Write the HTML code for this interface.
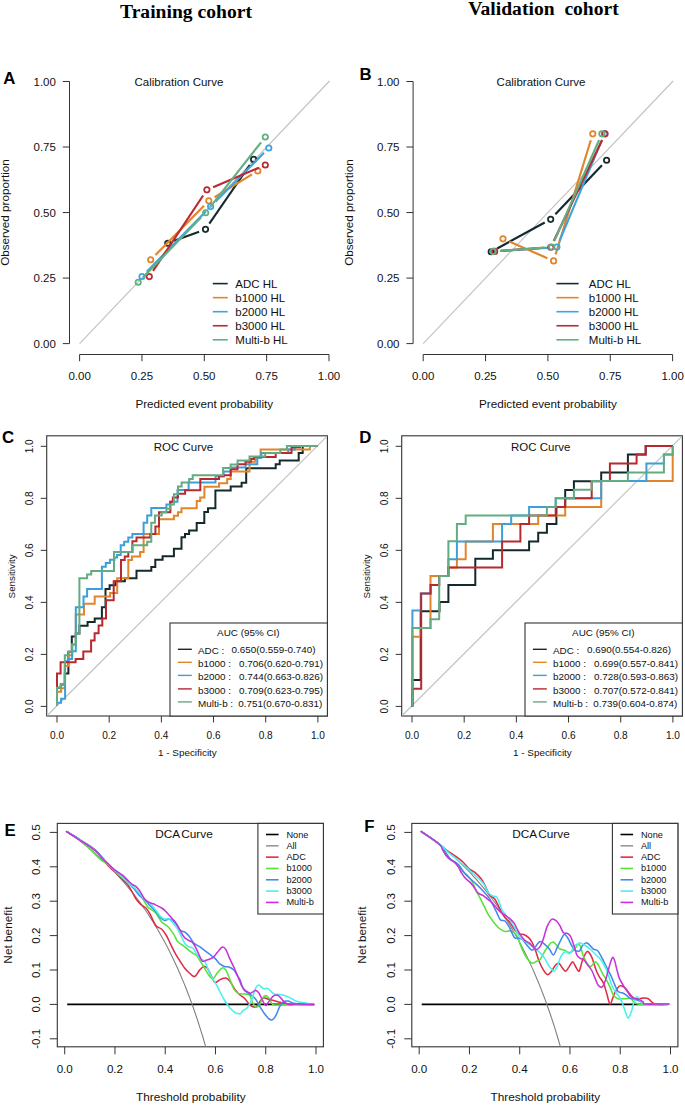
<!DOCTYPE html>
<html><head><meta charset="utf-8"><title>Figure</title>
<style>html,body{margin:0;padding:0;background:#fff;} svg{display:block;}</style>
</head><body>
<svg width="685" height="1105" viewBox="0 0 685 1105">
<rect x="0" y="0" width="685" height="1105" fill="#fff"/>
<text x="186.00" y="18.00" font-family="Liberation Serif, serif" font-size="19.6" text-anchor="middle" fill="#000" font-weight="bold" >Training cohort</text>
<text x="543.50" y="14.50" font-family="Liberation Serif, serif" font-size="19.6" text-anchor="middle" fill="#000" font-weight="bold" >Validation&#160;&#160;cohort</text>
<line x1="69.50" y1="81.50" x2="69.50" y2="343.60" stroke="#333" stroke-width="1" />
<line x1="62.80" y1="343.60" x2="69.50" y2="343.60" stroke="#333" stroke-width="1" />
<text x="55.90" y="347.80" font-family="Liberation Sans, sans-serif" font-size="11.5" text-anchor="end" fill="#111" >0.00</text>
<line x1="62.80" y1="278.08" x2="69.50" y2="278.08" stroke="#333" stroke-width="1" />
<text x="55.90" y="282.28" font-family="Liberation Sans, sans-serif" font-size="11.5" text-anchor="end" fill="#111" >0.25</text>
<line x1="62.80" y1="212.55" x2="69.50" y2="212.55" stroke="#333" stroke-width="1" />
<text x="55.90" y="216.75" font-family="Liberation Sans, sans-serif" font-size="11.5" text-anchor="end" fill="#111" >0.50</text>
<line x1="62.80" y1="147.03" x2="69.50" y2="147.03" stroke="#333" stroke-width="1" />
<text x="55.90" y="151.22" font-family="Liberation Sans, sans-serif" font-size="11.5" text-anchor="end" fill="#111" >0.75</text>
<line x1="62.80" y1="81.50" x2="69.50" y2="81.50" stroke="#333" stroke-width="1" />
<text x="55.90" y="85.70" font-family="Liberation Sans, sans-serif" font-size="11.5" text-anchor="end" fill="#111" >1.00</text>
<line x1="79.60" y1="354.50" x2="329.00" y2="354.50" stroke="#333" stroke-width="1" />
<line x1="79.60" y1="354.50" x2="79.60" y2="361.20" stroke="#333" stroke-width="1" />
<text x="79.60" y="380.20" font-family="Liberation Sans, sans-serif" font-size="11.5" text-anchor="middle" fill="#111" >0.00</text>
<line x1="141.95" y1="354.50" x2="141.95" y2="361.20" stroke="#333" stroke-width="1" />
<text x="141.95" y="380.20" font-family="Liberation Sans, sans-serif" font-size="11.5" text-anchor="middle" fill="#111" >0.25</text>
<line x1="204.30" y1="354.50" x2="204.30" y2="361.20" stroke="#333" stroke-width="1" />
<text x="204.30" y="380.20" font-family="Liberation Sans, sans-serif" font-size="11.5" text-anchor="middle" fill="#111" >0.50</text>
<line x1="266.65" y1="354.50" x2="266.65" y2="361.20" stroke="#333" stroke-width="1" />
<text x="266.65" y="380.20" font-family="Liberation Sans, sans-serif" font-size="11.5" text-anchor="middle" fill="#111" >0.75</text>
<line x1="329.00" y1="354.50" x2="329.00" y2="361.20" stroke="#333" stroke-width="1" />
<text x="329.00" y="380.20" font-family="Liberation Sans, sans-serif" font-size="11.5" text-anchor="middle" fill="#111" >1.00</text>
<text x="204.30" y="408.30" font-family="Liberation Sans, sans-serif" font-size="11.7" text-anchor="middle" fill="#111" >Predicted event probability</text>
<text x="9.20" y="212.55" font-family="Liberation Sans, sans-serif" font-size="11.7" text-anchor="middle" fill="#111" transform="rotate(-90 9.20 212.55)" >Observed proportion</text>
<text x="134.50" y="85.50" font-family="Liberation Sans, sans-serif" font-size="11.5" text-anchor="start" fill="#111" >Calibration Curve</text>
<text x="3.20" y="84.20" font-family="Liberation Sans, sans-serif" font-size="16.8" text-anchor="start" fill="#000" font-weight="bold" >A</text>
<line x1="79.60" y1="343.60" x2="329.50" y2="81.00" stroke="#c2c2c2" stroke-width="1.15" />
<line x1="212.80" y1="283.60" x2="227.70" y2="283.60" stroke="#142a2e" stroke-width="1.6" />
<text x="235.30" y="288.20" font-family="Liberation Sans, sans-serif" font-size="11.5" text-anchor="start" fill="#111" >ADC HL</text>
<line x1="212.80" y1="297.65" x2="227.70" y2="297.65" stroke="#e3842b" stroke-width="1.6" />
<text x="235.30" y="302.25" font-family="Liberation Sans, sans-serif" font-size="11.5" text-anchor="start" fill="#111" >b1000 HL</text>
<line x1="212.80" y1="311.70" x2="227.70" y2="311.70" stroke="#3ba5dd" stroke-width="1.6" />
<text x="235.30" y="316.30" font-family="Liberation Sans, sans-serif" font-size="11.5" text-anchor="start" fill="#111" >b2000 HL</text>
<line x1="212.80" y1="325.75" x2="227.70" y2="325.75" stroke="#bb2a31" stroke-width="1.6" />
<text x="235.30" y="330.35" font-family="Liberation Sans, sans-serif" font-size="11.5" text-anchor="start" fill="#111" >b3000 HL</text>
<line x1="212.80" y1="339.80" x2="227.70" y2="339.80" stroke="#63ae83" stroke-width="1.6" />
<text x="235.30" y="344.40" font-family="Liberation Sans, sans-serif" font-size="11.5" text-anchor="start" fill="#111" >Multi-b HL</text>
<line x1="174.18" y1="240.85" x2="199.12" y2="231.65" stroke="#142a2e" stroke-width="2.15" />
<line x1="209.35" y1="223.70" x2="249.75" y2="165.00" stroke="#142a2e" stroke-width="2.15" />
<circle cx="167.80" cy="243.20" r="2.7" fill="none" stroke="#142a2e" stroke-width="1.75"/>
<circle cx="205.50" cy="229.30" r="2.7" fill="none" stroke="#142a2e" stroke-width="1.75"/>
<circle cx="253.60" cy="159.40" r="2.7" fill="none" stroke="#142a2e" stroke-width="1.75"/>
<line x1="155.47" y1="254.95" x2="204.03" y2="205.65" stroke="#e3842b" stroke-width="2.15" />
<line x1="214.60" y1="197.26" x2="252.00" y2="174.44" stroke="#e3842b" stroke-width="2.15" />
<circle cx="150.70" cy="259.80" r="2.7" fill="none" stroke="#e3842b" stroke-width="1.75"/>
<circle cx="208.80" cy="200.80" r="2.7" fill="none" stroke="#e3842b" stroke-width="1.75"/>
<circle cx="257.80" cy="170.90" r="2.7" fill="none" stroke="#e3842b" stroke-width="1.75"/>
<line x1="146.76" y1="271.65" x2="205.84" y2="211.45" stroke="#3ba5dd" stroke-width="2.15" />
<line x1="215.39" y1="201.78" x2="264.01" y2="152.82" stroke="#3ba5dd" stroke-width="2.15" />
<circle cx="142.00" cy="276.50" r="2.7" fill="none" stroke="#3ba5dd" stroke-width="1.75"/>
<circle cx="210.60" cy="206.60" r="2.7" fill="none" stroke="#3ba5dd" stroke-width="1.75"/>
<circle cx="268.80" cy="148.00" r="2.7" fill="none" stroke="#3ba5dd" stroke-width="1.75"/>
<line x1="153.06" y1="270.93" x2="203.14" y2="195.47" stroke="#bb2a31" stroke-width="2.15" />
<line x1="213.16" y1="187.14" x2="259.04" y2="167.66" stroke="#bb2a31" stroke-width="2.15" />
<circle cx="149.30" cy="276.60" r="2.7" fill="none" stroke="#bb2a31" stroke-width="1.75"/>
<circle cx="206.90" cy="189.80" r="2.7" fill="none" stroke="#bb2a31" stroke-width="1.75"/>
<circle cx="265.30" cy="165.00" r="2.7" fill="none" stroke="#bb2a31" stroke-width="1.75"/>
<line x1="142.93" y1="277.42" x2="200.97" y2="217.58" stroke="#63ae83" stroke-width="2.15" />
<line x1="209.91" y1="207.36" x2="261.09" y2="142.34" stroke="#63ae83" stroke-width="2.15" />
<circle cx="138.20" cy="282.30" r="2.7" fill="none" stroke="#63ae83" stroke-width="1.75"/>
<circle cx="205.70" cy="212.70" r="2.7" fill="none" stroke="#63ae83" stroke-width="1.75"/>
<circle cx="265.30" cy="137.00" r="2.7" fill="none" stroke="#63ae83" stroke-width="1.75"/>
<line x1="413.10" y1="81.50" x2="413.10" y2="343.60" stroke="#333" stroke-width="1" />
<line x1="406.40" y1="343.60" x2="413.10" y2="343.60" stroke="#333" stroke-width="1" />
<text x="399.50" y="347.80" font-family="Liberation Sans, sans-serif" font-size="11.5" text-anchor="end" fill="#111" >0.00</text>
<line x1="406.40" y1="278.08" x2="413.10" y2="278.08" stroke="#333" stroke-width="1" />
<text x="399.50" y="282.28" font-family="Liberation Sans, sans-serif" font-size="11.5" text-anchor="end" fill="#111" >0.25</text>
<line x1="406.40" y1="212.55" x2="413.10" y2="212.55" stroke="#333" stroke-width="1" />
<text x="399.50" y="216.75" font-family="Liberation Sans, sans-serif" font-size="11.5" text-anchor="end" fill="#111" >0.50</text>
<line x1="406.40" y1="147.03" x2="413.10" y2="147.03" stroke="#333" stroke-width="1" />
<text x="399.50" y="151.22" font-family="Liberation Sans, sans-serif" font-size="11.5" text-anchor="end" fill="#111" >0.75</text>
<line x1="406.40" y1="81.50" x2="413.10" y2="81.50" stroke="#333" stroke-width="1" />
<text x="399.50" y="85.70" font-family="Liberation Sans, sans-serif" font-size="11.5" text-anchor="end" fill="#111" >1.00</text>
<line x1="423.20" y1="354.50" x2="672.60" y2="354.50" stroke="#333" stroke-width="1" />
<line x1="423.20" y1="354.50" x2="423.20" y2="361.20" stroke="#333" stroke-width="1" />
<text x="423.20" y="380.20" font-family="Liberation Sans, sans-serif" font-size="11.5" text-anchor="middle" fill="#111" >0.00</text>
<line x1="485.55" y1="354.50" x2="485.55" y2="361.20" stroke="#333" stroke-width="1" />
<text x="485.55" y="380.20" font-family="Liberation Sans, sans-serif" font-size="11.5" text-anchor="middle" fill="#111" >0.25</text>
<line x1="547.90" y1="354.50" x2="547.90" y2="361.20" stroke="#333" stroke-width="1" />
<text x="547.90" y="380.20" font-family="Liberation Sans, sans-serif" font-size="11.5" text-anchor="middle" fill="#111" >0.50</text>
<line x1="610.25" y1="354.50" x2="610.25" y2="361.20" stroke="#333" stroke-width="1" />
<text x="610.25" y="380.20" font-family="Liberation Sans, sans-serif" font-size="11.5" text-anchor="middle" fill="#111" >0.75</text>
<line x1="672.60" y1="354.50" x2="672.60" y2="361.20" stroke="#333" stroke-width="1" />
<text x="672.60" y="380.20" font-family="Liberation Sans, sans-serif" font-size="11.5" text-anchor="middle" fill="#111" >1.00</text>
<text x="547.90" y="408.30" font-family="Liberation Sans, sans-serif" font-size="11.7" text-anchor="middle" fill="#111" >Predicted event probability</text>
<text x="352.80" y="212.55" font-family="Liberation Sans, sans-serif" font-size="11.7" text-anchor="middle" fill="#111" transform="rotate(-90 352.80 212.55)" >Observed proportion</text>
<text x="496.60" y="85.50" font-family="Liberation Sans, sans-serif" font-size="11.5" text-anchor="start" fill="#111" >Calibration Curve</text>
<text x="359.60" y="79.60" font-family="Liberation Sans, sans-serif" font-size="16.8" text-anchor="start" fill="#000" font-weight="bold" >B</text>
<line x1="423.20" y1="343.60" x2="673.10" y2="81.00" stroke="#c2c2c2" stroke-width="1.15" />
<line x1="556.40" y1="283.60" x2="578.60" y2="283.60" stroke="#142a2e" stroke-width="1.6" />
<text x="588.80" y="288.20" font-family="Liberation Sans, sans-serif" font-size="11.5" text-anchor="start" fill="#111" >ADC HL</text>
<line x1="556.40" y1="297.65" x2="578.60" y2="297.65" stroke="#e3842b" stroke-width="1.6" />
<text x="588.80" y="302.25" font-family="Liberation Sans, sans-serif" font-size="11.5" text-anchor="start" fill="#111" >b1000 HL</text>
<line x1="556.40" y1="311.70" x2="578.60" y2="311.70" stroke="#3ba5dd" stroke-width="1.6" />
<text x="588.80" y="316.30" font-family="Liberation Sans, sans-serif" font-size="11.5" text-anchor="start" fill="#111" >b2000 HL</text>
<line x1="556.40" y1="325.75" x2="578.60" y2="325.75" stroke="#bb2a31" stroke-width="1.6" />
<text x="588.80" y="330.35" font-family="Liberation Sans, sans-serif" font-size="11.5" text-anchor="start" fill="#111" >b3000 HL</text>
<line x1="556.40" y1="339.80" x2="578.60" y2="339.80" stroke="#63ae83" stroke-width="1.6" />
<text x="588.80" y="344.40" font-family="Liberation Sans, sans-serif" font-size="11.5" text-anchor="start" fill="#111" >Multi-b HL</text>
<line x1="497.17" y1="248.45" x2="544.73" y2="222.55" stroke="#142a2e" stroke-width="2.15" />
<line x1="555.37" y1="214.36" x2="601.93" y2="165.14" stroke="#142a2e" stroke-width="2.15" />
<circle cx="491.20" cy="251.70" r="2.7" fill="none" stroke="#142a2e" stroke-width="1.75"/>
<circle cx="550.70" cy="219.30" r="2.7" fill="none" stroke="#142a2e" stroke-width="1.75"/>
<circle cx="606.60" cy="160.20" r="2.7" fill="none" stroke="#142a2e" stroke-width="1.75"/>
<line x1="509.23" y1="241.52" x2="547.37" y2="258.18" stroke="#e3842b" stroke-width="2.15" />
<line x1="555.60" y1="254.40" x2="590.80" y2="140.30" stroke="#e3842b" stroke-width="2.15" />
<circle cx="503.00" cy="238.80" r="2.7" fill="none" stroke="#e3842b" stroke-width="1.75"/>
<circle cx="553.60" cy="260.90" r="2.7" fill="none" stroke="#e3842b" stroke-width="1.75"/>
<circle cx="592.80" cy="133.80" r="2.7" fill="none" stroke="#e3842b" stroke-width="1.75"/>
<line x1="500.68" y1="250.94" x2="550.12" y2="247.56" stroke="#3ba5dd" stroke-width="2.15" />
<line x1="559.53" y1="240.83" x2="601.87" y2="140.07" stroke="#3ba5dd" stroke-width="2.15" />
<circle cx="493.90" cy="251.40" r="2.7" fill="none" stroke="#3ba5dd" stroke-width="1.75"/>
<circle cx="556.90" cy="247.10" r="2.7" fill="none" stroke="#3ba5dd" stroke-width="1.75"/>
<circle cx="604.50" cy="133.80" r="2.7" fill="none" stroke="#3ba5dd" stroke-width="1.75"/>
<line x1="501.48" y1="250.89" x2="544.02" y2="247.71" stroke="#bb2a31" stroke-width="2.15" />
<line x1="553.74" y1="241.07" x2="602.16" y2="139.93" stroke="#bb2a31" stroke-width="2.15" />
<circle cx="494.70" cy="251.40" r="2.7" fill="none" stroke="#bb2a31" stroke-width="1.75"/>
<circle cx="550.80" cy="247.20" r="2.7" fill="none" stroke="#bb2a31" stroke-width="1.75"/>
<circle cx="605.10" cy="133.80" r="2.7" fill="none" stroke="#bb2a31" stroke-width="1.75"/>
<line x1="499.88" y1="250.90" x2="544.82" y2="247.60" stroke="#63ae83" stroke-width="2.15" />
<line x1="554.36" y1="240.88" x2="599.14" y2="140.02" stroke="#63ae83" stroke-width="2.15" />
<circle cx="493.10" cy="251.40" r="2.7" fill="none" stroke="#63ae83" stroke-width="1.75"/>
<circle cx="551.60" cy="247.10" r="2.7" fill="none" stroke="#63ae83" stroke-width="1.75"/>
<circle cx="601.90" cy="133.80" r="2.7" fill="none" stroke="#63ae83" stroke-width="1.75"/>
<rect x="46.70" y="435.80" width="280.70" height="280.20" fill="none" stroke="#333" stroke-width="1.1"/>
<line x1="40.70" y1="706.40" x2="46.70" y2="706.40" stroke="#333" stroke-width="1" />
<text x="32.90" y="706.40" font-family="Liberation Sans, sans-serif" font-size="10.1" text-anchor="middle" fill="#111" transform="rotate(-90 32.90 706.40)" >0.0</text>
<line x1="57.00" y1="716.00" x2="57.00" y2="722.50" stroke="#333" stroke-width="1" />
<text x="57.00" y="738.50" font-family="Liberation Sans, sans-serif" font-size="10.1" text-anchor="middle" fill="#111" >0.0</text>
<line x1="40.70" y1="654.38" x2="46.70" y2="654.38" stroke="#333" stroke-width="1" />
<text x="32.90" y="654.38" font-family="Liberation Sans, sans-serif" font-size="10.1" text-anchor="middle" fill="#111" transform="rotate(-90 32.90 654.38)" >0.2</text>
<line x1="109.18" y1="716.00" x2="109.18" y2="722.50" stroke="#333" stroke-width="1" />
<text x="109.18" y="738.50" font-family="Liberation Sans, sans-serif" font-size="10.1" text-anchor="middle" fill="#111" >0.2</text>
<line x1="40.70" y1="602.36" x2="46.70" y2="602.36" stroke="#333" stroke-width="1" />
<text x="32.90" y="602.36" font-family="Liberation Sans, sans-serif" font-size="10.1" text-anchor="middle" fill="#111" transform="rotate(-90 32.90 602.36)" >0.4</text>
<line x1="161.36" y1="716.00" x2="161.36" y2="722.50" stroke="#333" stroke-width="1" />
<text x="161.36" y="738.50" font-family="Liberation Sans, sans-serif" font-size="10.1" text-anchor="middle" fill="#111" >0.4</text>
<line x1="40.70" y1="550.34" x2="46.70" y2="550.34" stroke="#333" stroke-width="1" />
<text x="32.90" y="550.34" font-family="Liberation Sans, sans-serif" font-size="10.1" text-anchor="middle" fill="#111" transform="rotate(-90 32.90 550.34)" >0.6</text>
<line x1="213.54" y1="716.00" x2="213.54" y2="722.50" stroke="#333" stroke-width="1" />
<text x="213.54" y="738.50" font-family="Liberation Sans, sans-serif" font-size="10.1" text-anchor="middle" fill="#111" >0.6</text>
<line x1="40.70" y1="498.32" x2="46.70" y2="498.32" stroke="#333" stroke-width="1" />
<text x="32.90" y="498.32" font-family="Liberation Sans, sans-serif" font-size="10.1" text-anchor="middle" fill="#111" transform="rotate(-90 32.90 498.32)" >0.8</text>
<line x1="265.72" y1="716.00" x2="265.72" y2="722.50" stroke="#333" stroke-width="1" />
<text x="265.72" y="738.50" font-family="Liberation Sans, sans-serif" font-size="10.1" text-anchor="middle" fill="#111" >0.8</text>
<line x1="40.70" y1="446.30" x2="46.70" y2="446.30" stroke="#333" stroke-width="1" />
<text x="32.90" y="446.30" font-family="Liberation Sans, sans-serif" font-size="10.1" text-anchor="middle" fill="#111" transform="rotate(-90 32.90 446.30)" >1.0</text>
<line x1="317.90" y1="716.00" x2="317.90" y2="722.50" stroke="#333" stroke-width="1" />
<text x="317.90" y="738.50" font-family="Liberation Sans, sans-serif" font-size="10.1" text-anchor="middle" fill="#111" >1.0</text>
<text x="187.45" y="755.60" font-family="Liberation Sans, sans-serif" font-size="9.9" text-anchor="middle" fill="#111" >1 - Specificity</text>
<text x="14.90" y="576.35" font-family="Liberation Sans, sans-serif" font-size="9.8" text-anchor="middle" fill="#111" transform="rotate(-90 14.90 576.35)" >Sensitivity</text>
<text x="153.80" y="450.60" font-family="Liberation Sans, sans-serif" font-size="11.5" text-anchor="start" fill="#111" >ROC Curve</text>
<text x="2.00" y="442.60" font-family="Liberation Sans, sans-serif" font-size="16.8" text-anchor="start" fill="#000" font-weight="bold" >C</text>
<line x1="47.20" y1="715.50" x2="326.90" y2="436.30" stroke="#c2c2c2" stroke-width="1.15" />
<polyline points="57.00,706.00 57.00,687.80 60.80,687.80 60.80,684.50 64.80,684.50 64.80,673.60 68.40,673.60 68.40,651.70 71.80,651.70 71.80,636.40 75.80,636.40 75.80,633.40 79.40,633.40 79.40,625.70 87.60,625.70 87.60,622.10 94.70,622.10 94.70,618.50 101.90,618.50 101.90,607.30 105.50,607.30 105.50,588.90 109.60,588.90 109.60,585.30 115.70,585.30 115.70,581.20 124.90,581.20 124.90,578.20 136.50,578.20 136.50,570.80 151.30,570.80 151.30,566.90 155.30,566.90 155.30,559.80 162.60,559.80 162.60,556.20 173.90,556.20 173.90,548.70 181.50,548.70 181.50,537.30 185.00,537.30 185.00,534.10 189.10,534.10 189.10,530.50 196.70,530.50 196.70,523.10 204.30,523.10 204.30,512.00 208.00,512.00 208.00,508.30 215.40,508.30 215.40,490.50 230.70,490.50 230.70,486.50 241.60,486.50 241.60,482.70 246.20,482.70 246.20,468.20 275.70,468.20 275.70,464.30 279.70,464.30 279.70,460.40 298.70,460.40 298.70,453.10 302.70,453.10 302.70,446.00 317.90,446.00" fill="none" stroke="#15292d" stroke-width="2" stroke-linejoin="miter" stroke-linecap="butt" />
<polyline points="57.00,706.00 57.00,691.80 61.10,691.80 61.10,688.20 64.80,688.20 64.80,665.90 68.40,665.90 68.40,655.30 72.20,655.30 72.20,644.50 75.80,644.50 75.80,614.50 84.00,614.50 84.00,603.70 94.70,603.70 94.70,596.60 110.10,596.60 110.10,593.00 117.20,593.00 117.20,578.20 128.30,578.20 128.30,560.10 131.90,560.10 131.90,556.50 140.10,556.50 140.10,551.90 143.60,551.90 143.60,534.00 159.00,534.00 159.00,519.20 173.90,519.20 173.90,515.70 178.00,515.70 178.00,512.20 181.50,512.20 181.50,508.30 196.70,508.30 196.70,501.10 200.20,501.10 200.20,497.40 204.40,497.40 204.40,486.70 219.00,486.70 219.00,483.20 227.20,483.20 227.20,479.10 230.70,479.10 230.70,471.50 249.50,471.50 249.50,461.70 255.40,461.70 255.40,457.70 260.60,457.70 260.60,449.50 309.90,449.50 309.90,446.00 317.90,446.00" fill="none" stroke="#e3842b" stroke-width="2" stroke-linejoin="miter" stroke-linecap="butt" />
<polyline points="57.00,706.00 57.00,702.80 61.10,702.80 61.10,698.80 65.10,698.80 65.10,661.20 68.10,661.20 68.10,659.00 72.10,659.00 72.10,651.30 75.80,651.30 75.80,607.30 83.50,607.30 83.50,596.60 87.10,596.60 87.10,588.90 101.90,588.90 101.90,566.70 105.80,566.70 105.80,563.10 109.90,563.10 109.90,559.80 114.50,559.80 114.50,557.50 117.10,557.50 117.10,555.00 120.70,555.00 120.70,545.30 124.20,545.30 124.20,541.70 128.30,541.70 128.30,537.60 132.40,537.60 132.40,534.00 143.60,534.00 143.60,522.80 147.20,522.80 147.20,515.60 151.30,515.60 151.30,508.10 166.40,508.10 166.40,504.60 170.00,504.60 170.00,501.70 177.50,501.70 177.50,490.00 188.60,490.00 188.60,482.60 215.50,482.60 215.50,476.20 223.60,476.20 223.60,471.50 230.70,471.50 230.70,467.60 245.50,467.60 245.50,464.30 257.30,464.30 257.30,457.70 261.30,457.70 261.30,453.10 288.20,453.10 288.20,449.50 294.80,449.50 294.80,446.00 317.90,446.00" fill="none" stroke="#3c9fdb" stroke-width="2" stroke-linejoin="miter" stroke-linecap="butt" />
<polyline points="57.00,706.00 57.00,673.40 60.60,673.40 60.60,662.20 75.60,662.20 75.60,659.00 83.30,659.00 83.30,651.50 91.10,651.50 91.10,640.50 94.60,640.50 94.60,633.20 98.60,633.20 98.60,625.50 102.30,625.50 102.30,618.40 106.00,618.40 106.00,600.20 113.70,600.20 113.70,581.20 121.00,581.20 121.00,560.10 124.70,560.10 124.70,556.50 128.30,556.50 128.30,551.90 132.40,551.90 132.40,541.20 136.50,541.20 136.50,537.60 150.30,537.60 150.30,534.00 155.40,534.00 155.40,526.40 159.00,526.40 159.00,512.20 170.40,512.20 170.40,501.70 172.80,501.70 172.80,497.60 178.00,497.60 178.00,493.70 185.10,493.70 185.10,490.20 200.30,490.20 200.30,478.90 219.00,478.90 219.00,476.20 223.60,476.20 223.60,475.30 230.70,475.30 230.70,469.20 237.50,469.20 237.50,464.30 245.50,464.30 245.50,461.70 250.80,461.70 250.80,459.00 254.00,459.00 254.00,457.10 275.70,457.10 275.70,453.10 291.50,453.10 291.50,447.20 300.00,447.20 300.00,446.00 317.90,446.00" fill="none" stroke="#b8282f" stroke-width="2" stroke-linejoin="miter" stroke-linecap="butt" />
<polyline points="57.00,706.00 57.00,687.80 60.80,687.80 60.80,684.50 64.80,684.50 64.80,655.30 68.40,655.30 68.40,651.70 72.20,651.70 72.20,644.50 75.80,644.50 75.80,633.40 79.40,633.40 79.40,578.20 87.10,578.20 87.10,574.40 91.20,574.40 91.20,571.00 114.00,571.00 114.00,551.90 132.40,551.90 132.40,545.30 147.20,545.30 147.20,541.70 151.30,541.70 151.30,522.80 154.90,522.80 154.90,515.60 161.70,515.60 161.70,512.20 166.40,512.20 166.40,508.70 169.90,508.70 169.90,504.60 173.90,504.60 173.90,494.20 178.00,494.20 178.00,486.50 181.60,486.50 181.60,482.60 189.20,482.60 189.20,478.90 192.70,478.90 192.70,475.30 223.10,475.30 223.10,468.00 230.70,468.00 230.70,464.50 237.60,464.50 237.60,460.40 249.50,460.40 249.50,456.40 265.20,456.40 265.20,453.10 280.30,453.10 280.30,449.50 286.90,449.50 286.90,446.00 317.90,446.00" fill="none" stroke="#63ab81" stroke-width="2" stroke-linejoin="miter" stroke-linecap="butt" />
<rect x="170.00" y="623.00" width="157.40" height="93.00" fill="#fff" stroke="#333" stroke-width="1.1"/>
<text x="217.10" y="636.30" font-family="Liberation Sans, sans-serif" font-size="9.9" text-anchor="start" fill="#111" >AUC (95% CI)</text>
<line x1="177.90" y1="649.30" x2="191.80" y2="649.30" stroke="#15292d" stroke-width="1.4" />
<text x="198.00" y="653.90" font-family="Liberation Sans, sans-serif" font-size="9.9" text-anchor="start" fill="#111" >ADC :</text>
<text x="231.50" y="653.30" font-family="Liberation Sans, sans-serif" font-size="9.9" text-anchor="start" fill="#111" >0.650(0.559-0.740)</text>
<line x1="177.90" y1="662.30" x2="191.80" y2="662.30" stroke="#e3842b" stroke-width="1.4" />
<text x="198.00" y="666.90" font-family="Liberation Sans, sans-serif" font-size="9.9" text-anchor="start" fill="#111" >b1000 :</text>
<text x="239.00" y="667.20" font-family="Liberation Sans, sans-serif" font-size="9.9" text-anchor="start" fill="#111" >0.706(0.620-0.791)</text>
<line x1="177.90" y1="675.40" x2="191.80" y2="675.40" stroke="#3c9fdb" stroke-width="1.4" />
<text x="198.00" y="680.00" font-family="Liberation Sans, sans-serif" font-size="9.9" text-anchor="start" fill="#111" >b2000 :</text>
<text x="239.00" y="680.30" font-family="Liberation Sans, sans-serif" font-size="9.9" text-anchor="start" fill="#111" >0.744(0.663-0.826)</text>
<line x1="177.90" y1="688.90" x2="191.80" y2="688.90" stroke="#b8282f" stroke-width="1.4" />
<text x="198.00" y="693.50" font-family="Liberation Sans, sans-serif" font-size="9.9" text-anchor="start" fill="#111" >b3000 :</text>
<text x="239.00" y="693.80" font-family="Liberation Sans, sans-serif" font-size="9.9" text-anchor="start" fill="#111" >0.709(0.623-0.795)</text>
<line x1="177.90" y1="701.90" x2="191.80" y2="701.90" stroke="#63ab81" stroke-width="1.4" />
<text x="198.00" y="706.50" font-family="Liberation Sans, sans-serif" font-size="9.9" text-anchor="start" fill="#111" >Multi-b :</text>
<text x="238.20" y="707.10" font-family="Liberation Sans, sans-serif" font-size="9.9" text-anchor="start" fill="#111" >0.751(0.670-0.831)</text>
<rect x="401.70" y="435.80" width="280.70" height="280.20" fill="none" stroke="#333" stroke-width="1.1"/>
<line x1="395.70" y1="706.40" x2="401.70" y2="706.40" stroke="#333" stroke-width="1" />
<text x="387.90" y="706.40" font-family="Liberation Sans, sans-serif" font-size="10.1" text-anchor="middle" fill="#111" transform="rotate(-90 387.90 706.40)" >0.0</text>
<line x1="412.00" y1="716.00" x2="412.00" y2="722.50" stroke="#333" stroke-width="1" />
<text x="412.00" y="738.50" font-family="Liberation Sans, sans-serif" font-size="10.1" text-anchor="middle" fill="#111" >0.0</text>
<line x1="395.70" y1="654.38" x2="401.70" y2="654.38" stroke="#333" stroke-width="1" />
<text x="387.90" y="654.38" font-family="Liberation Sans, sans-serif" font-size="10.1" text-anchor="middle" fill="#111" transform="rotate(-90 387.90 654.38)" >0.2</text>
<line x1="464.18" y1="716.00" x2="464.18" y2="722.50" stroke="#333" stroke-width="1" />
<text x="464.18" y="738.50" font-family="Liberation Sans, sans-serif" font-size="10.1" text-anchor="middle" fill="#111" >0.2</text>
<line x1="395.70" y1="602.36" x2="401.70" y2="602.36" stroke="#333" stroke-width="1" />
<text x="387.90" y="602.36" font-family="Liberation Sans, sans-serif" font-size="10.1" text-anchor="middle" fill="#111" transform="rotate(-90 387.90 602.36)" >0.4</text>
<line x1="516.36" y1="716.00" x2="516.36" y2="722.50" stroke="#333" stroke-width="1" />
<text x="516.36" y="738.50" font-family="Liberation Sans, sans-serif" font-size="10.1" text-anchor="middle" fill="#111" >0.4</text>
<line x1="395.70" y1="550.34" x2="401.70" y2="550.34" stroke="#333" stroke-width="1" />
<text x="387.90" y="550.34" font-family="Liberation Sans, sans-serif" font-size="10.1" text-anchor="middle" fill="#111" transform="rotate(-90 387.90 550.34)" >0.6</text>
<line x1="568.54" y1="716.00" x2="568.54" y2="722.50" stroke="#333" stroke-width="1" />
<text x="568.54" y="738.50" font-family="Liberation Sans, sans-serif" font-size="10.1" text-anchor="middle" fill="#111" >0.6</text>
<line x1="395.70" y1="498.32" x2="401.70" y2="498.32" stroke="#333" stroke-width="1" />
<text x="387.90" y="498.32" font-family="Liberation Sans, sans-serif" font-size="10.1" text-anchor="middle" fill="#111" transform="rotate(-90 387.90 498.32)" >0.8</text>
<line x1="620.72" y1="716.00" x2="620.72" y2="722.50" stroke="#333" stroke-width="1" />
<text x="620.72" y="738.50" font-family="Liberation Sans, sans-serif" font-size="10.1" text-anchor="middle" fill="#111" >0.8</text>
<line x1="395.70" y1="446.30" x2="401.70" y2="446.30" stroke="#333" stroke-width="1" />
<text x="387.90" y="446.30" font-family="Liberation Sans, sans-serif" font-size="10.1" text-anchor="middle" fill="#111" transform="rotate(-90 387.90 446.30)" >1.0</text>
<line x1="672.90" y1="716.00" x2="672.90" y2="722.50" stroke="#333" stroke-width="1" />
<text x="672.90" y="738.50" font-family="Liberation Sans, sans-serif" font-size="10.1" text-anchor="middle" fill="#111" >1.0</text>
<text x="542.45" y="755.60" font-family="Liberation Sans, sans-serif" font-size="9.9" text-anchor="middle" fill="#111" >1 - Specificity</text>
<text x="369.90" y="576.35" font-family="Liberation Sans, sans-serif" font-size="9.8" text-anchor="middle" fill="#111" transform="rotate(-90 369.90 576.35)" >Sensitivity</text>
<text x="511.00" y="450.60" font-family="Liberation Sans, sans-serif" font-size="11.5" text-anchor="start" fill="#111" >ROC Curve</text>
<text x="359.30" y="442.60" font-family="Liberation Sans, sans-serif" font-size="16.8" text-anchor="start" fill="#000" font-weight="bold" >D</text>
<line x1="402.20" y1="715.50" x2="681.90" y2="436.30" stroke="#c2c2c2" stroke-width="1.15" />
<polyline points="412.40,706.50 412.40,680.10 420.70,680.10 420.70,611.20 439.50,611.20 439.50,601.90 448.40,601.90 448.40,584.90 475.30,584.90 475.30,558.80 492.90,558.80 492.90,550.20 529.10,550.20 529.10,541.50 538.20,541.50 538.20,532.70 546.90,532.70 546.90,523.90 556.40,523.90 556.40,507.00 565.20,507.00 565.20,489.90 573.90,489.90 573.90,481.20 601.20,481.20 601.20,472.40 627.90,472.40 627.90,454.60 645.70,454.60 645.70,446.10 672.70,446.10" fill="none" stroke="#15292d" stroke-width="2" stroke-linejoin="miter" stroke-linecap="butt" />
<polyline points="412.40,706.50 412.40,636.70 420.70,636.70 420.70,628.00 430.50,628.00 430.50,576.10 448.40,576.10 448.40,567.40 456.90,567.40 456.90,559.30 465.70,559.30 465.70,541.50 492.90,541.50 492.90,523.90 538.20,523.90 538.20,515.50 565.20,515.50 565.20,507.00 601.20,507.00 601.20,480.90 672.70,480.90 672.70,454.60" fill="none" stroke="#e3842b" stroke-width="2" stroke-linejoin="miter" stroke-linecap="butt" />
<polyline points="412.40,706.50 412.40,610.60 420.70,610.60 420.70,593.40 430.60,593.40 430.60,584.90 439.20,584.90 439.20,576.10 448.40,576.10 448.40,559.30 456.90,559.30 456.90,541.40 502.10,541.40 502.10,523.90 511.20,523.90 511.20,515.50 529.10,515.50 529.10,507.00 555.70,507.00 555.70,498.30 601.20,498.30 601.20,480.90 646.40,480.90 646.40,463.40 663.90,463.40 663.90,454.60 672.70,454.60 672.70,446.10" fill="none" stroke="#3c9fdb" stroke-width="2" stroke-linejoin="miter" stroke-linecap="butt" />
<polyline points="412.40,706.50 412.40,688.80 421.20,688.80 421.20,593.40 430.60,593.40 430.60,584.90 439.20,584.90 439.20,576.10 448.40,576.10 448.40,567.50 502.10,567.50 502.10,541.50 520.40,541.50 520.40,523.90 529.10,523.90 529.10,515.50 555.70,515.50 555.70,507.00 565.20,507.00 565.20,498.30 591.70,498.30 591.70,480.90 609.90,480.90 609.90,463.40 636.60,463.40 636.60,454.60 645.70,454.60 645.70,446.10 672.70,446.10" fill="none" stroke="#b8282f" stroke-width="2" stroke-linejoin="miter" stroke-linecap="butt" />
<polyline points="412.40,706.50 412.40,628.00 430.50,628.00 430.50,619.30 439.20,619.30 439.20,576.10 448.40,576.10 448.40,541.30 456.90,541.30 456.90,524.10 465.70,524.10 465.70,515.40 546.90,515.40 546.90,507.00 555.70,507.00 555.70,498.20 573.90,498.20 573.90,489.70 591.70,489.70 591.70,480.90 627.90,480.90 627.90,472.40 663.90,472.40 663.90,454.60 672.70,454.60 672.70,446.10" fill="none" stroke="#63ab81" stroke-width="2" stroke-linejoin="miter" stroke-linecap="butt" />
<rect x="525.00" y="623.00" width="157.40" height="93.00" fill="#fff" stroke="#333" stroke-width="1.1"/>
<text x="572.10" y="636.30" font-family="Liberation Sans, sans-serif" font-size="9.9" text-anchor="start" fill="#111" >AUC (95% CI)</text>
<line x1="532.90" y1="649.30" x2="546.80" y2="649.30" stroke="#15292d" stroke-width="1.4" />
<text x="553.00" y="653.90" font-family="Liberation Sans, sans-serif" font-size="9.9" text-anchor="start" fill="#111" >ADC :</text>
<text x="587.00" y="653.30" font-family="Liberation Sans, sans-serif" font-size="9.9" text-anchor="start" fill="#111" >0.690(0.554-0.826)</text>
<line x1="532.90" y1="662.30" x2="546.80" y2="662.30" stroke="#e3842b" stroke-width="1.4" />
<text x="553.00" y="666.90" font-family="Liberation Sans, sans-serif" font-size="9.9" text-anchor="start" fill="#111" >b1000 :</text>
<text x="594.00" y="667.20" font-family="Liberation Sans, sans-serif" font-size="9.9" text-anchor="start" fill="#111" >0.699(0.557-0.841)</text>
<line x1="532.90" y1="675.40" x2="546.80" y2="675.40" stroke="#3c9fdb" stroke-width="1.4" />
<text x="553.00" y="680.00" font-family="Liberation Sans, sans-serif" font-size="9.9" text-anchor="start" fill="#111" >b2000 :</text>
<text x="594.00" y="680.30" font-family="Liberation Sans, sans-serif" font-size="9.9" text-anchor="start" fill="#111" >0.728(0.593-0.863)</text>
<line x1="532.90" y1="688.90" x2="546.80" y2="688.90" stroke="#b8282f" stroke-width="1.4" />
<text x="553.00" y="693.50" font-family="Liberation Sans, sans-serif" font-size="9.9" text-anchor="start" fill="#111" >b3000 :</text>
<text x="594.00" y="693.80" font-family="Liberation Sans, sans-serif" font-size="9.9" text-anchor="start" fill="#111" >0.707(0.572-0.841)</text>
<line x1="532.90" y1="701.90" x2="546.80" y2="701.90" stroke="#63ab81" stroke-width="1.4" />
<text x="553.00" y="706.50" font-family="Liberation Sans, sans-serif" font-size="9.9" text-anchor="start" fill="#111" >Multi-b :</text>
<text x="593.20" y="707.10" font-family="Liberation Sans, sans-serif" font-size="9.9" text-anchor="start" fill="#111" >0.739(0.604-0.874)</text>
<rect x="57.30" y="823.40" width="266.10" height="223.40" fill="none" stroke="#333" stroke-width="1.1"/>
<line x1="49.80" y1="1038.80" x2="57.30" y2="1038.80" stroke="#333" stroke-width="1" />
<text x="40.20" y="1038.80" font-family="Liberation Sans, sans-serif" font-size="11.6" text-anchor="middle" fill="#111" transform="rotate(-90 40.20 1038.80)" >-0.1</text>
<line x1="49.80" y1="1004.40" x2="57.30" y2="1004.40" stroke="#333" stroke-width="1" />
<text x="40.20" y="1004.40" font-family="Liberation Sans, sans-serif" font-size="11.6" text-anchor="middle" fill="#111" transform="rotate(-90 40.20 1004.40)" >0.0</text>
<line x1="49.80" y1="970.00" x2="57.30" y2="970.00" stroke="#333" stroke-width="1" />
<text x="40.20" y="970.00" font-family="Liberation Sans, sans-serif" font-size="11.6" text-anchor="middle" fill="#111" transform="rotate(-90 40.20 970.00)" >0.1</text>
<line x1="49.80" y1="935.60" x2="57.30" y2="935.60" stroke="#333" stroke-width="1" />
<text x="40.20" y="935.60" font-family="Liberation Sans, sans-serif" font-size="11.6" text-anchor="middle" fill="#111" transform="rotate(-90 40.20 935.60)" >0.2</text>
<line x1="49.80" y1="901.20" x2="57.30" y2="901.20" stroke="#333" stroke-width="1" />
<text x="40.20" y="901.20" font-family="Liberation Sans, sans-serif" font-size="11.6" text-anchor="middle" fill="#111" transform="rotate(-90 40.20 901.20)" >0.3</text>
<line x1="49.80" y1="866.80" x2="57.30" y2="866.80" stroke="#333" stroke-width="1" />
<text x="40.20" y="866.80" font-family="Liberation Sans, sans-serif" font-size="11.6" text-anchor="middle" fill="#111" transform="rotate(-90 40.20 866.80)" >0.4</text>
<line x1="49.80" y1="832.40" x2="57.30" y2="832.40" stroke="#333" stroke-width="1" />
<text x="40.20" y="832.40" font-family="Liberation Sans, sans-serif" font-size="11.6" text-anchor="middle" fill="#111" transform="rotate(-90 40.20 832.40)" >0.5</text>
<line x1="64.70" y1="1046.80" x2="64.70" y2="1054.30" stroke="#333" stroke-width="1" />
<text x="64.70" y="1073.20" font-family="Liberation Sans, sans-serif" font-size="11.6" text-anchor="middle" fill="#111" >0.0</text>
<line x1="114.96" y1="1046.80" x2="114.96" y2="1054.30" stroke="#333" stroke-width="1" />
<text x="114.96" y="1073.20" font-family="Liberation Sans, sans-serif" font-size="11.6" text-anchor="middle" fill="#111" >0.2</text>
<line x1="165.22" y1="1046.80" x2="165.22" y2="1054.30" stroke="#333" stroke-width="1" />
<text x="165.22" y="1073.20" font-family="Liberation Sans, sans-serif" font-size="11.6" text-anchor="middle" fill="#111" >0.4</text>
<line x1="215.48" y1="1046.80" x2="215.48" y2="1054.30" stroke="#333" stroke-width="1" />
<text x="215.48" y="1073.20" font-family="Liberation Sans, sans-serif" font-size="11.6" text-anchor="middle" fill="#111" >0.6</text>
<line x1="265.74" y1="1046.80" x2="265.74" y2="1054.30" stroke="#333" stroke-width="1" />
<text x="265.74" y="1073.20" font-family="Liberation Sans, sans-serif" font-size="11.6" text-anchor="middle" fill="#111" >0.8</text>
<line x1="316.00" y1="1046.80" x2="316.00" y2="1054.30" stroke="#333" stroke-width="1" />
<text x="316.00" y="1073.20" font-family="Liberation Sans, sans-serif" font-size="11.6" text-anchor="middle" fill="#111" >1.0</text>
<text x="190.85" y="1101.00" font-family="Liberation Sans, sans-serif" font-size="11.8" text-anchor="middle" fill="#111" >Threshold probability</text>
<text x="11.90" y="935.10" font-family="Liberation Sans, sans-serif" font-size="11.8" text-anchor="middle" fill="#111" transform="rotate(-90 11.90 935.10)" >Net benefit</text>
<text x="155.30" y="837.70" font-family="Liberation Sans, sans-serif" font-size="11.8" text-anchor="start" fill="#111" word-spacing="-1.6">DCA Curve</text>
<text x="4.60" y="836.10" font-family="Liberation Sans, sans-serif" font-size="16.8" text-anchor="start" fill="#000" font-weight="bold" >E</text>
<clipPath id="clipE"><rect x="57.30" y="823.40" width="266.10" height="223.40"/></clipPath>
<g clip-path="url(#clipE)">
<line x1="67.21" y1="1004.40" x2="313.49" y2="1004.40" stroke="#000" stroke-width="1.9" />
<path d="M67.21,831.71 C67.63,832.00 68.89,832.86 69.73,833.45 C70.56,834.04 71.40,834.64 72.24,835.24 C73.08,835.84 73.91,836.44 74.75,837.06 C75.59,837.67 76.43,838.29 77.27,838.92 C78.10,839.54 78.94,840.18 79.78,840.82 C80.62,841.46 81.45,842.10 82.29,842.76 C83.13,843.41 83.97,844.07 84.80,844.74 C85.64,845.41 86.48,846.08 87.32,846.76 C88.15,847.45 88.99,848.14 89.83,848.84 C90.67,849.53 91.51,850.24 92.34,850.95 C93.18,851.67 94.02,852.39 94.86,853.12 C95.69,853.85 96.53,854.59 97.37,855.33 C98.21,856.08 99.04,856.84 99.88,857.60 C100.72,858.36 101.56,859.14 102.40,859.92 C103.23,860.70 104.07,861.49 104.91,862.30 C105.75,863.10 106.58,863.91 107.42,864.73 C108.26,865.55 109.10,866.38 109.93,867.22 C110.77,868.06 111.61,868.91 112.45,869.77 C113.28,870.63 114.12,871.51 114.96,872.39 C115.80,873.27 116.64,874.17 117.47,875.07 C118.31,875.98 119.15,876.90 119.99,877.83 C120.82,878.75 121.66,879.70 122.50,880.65 C123.34,881.60 124.17,882.57 125.01,883.55 C125.85,884.53 126.69,885.52 127.53,886.52 C128.36,887.53 129.20,888.55 130.04,889.58 C130.88,890.61 131.71,891.66 132.55,892.72 C133.39,893.78 134.23,894.85 135.06,895.94 C135.90,897.04 136.74,898.14 137.58,899.26 C138.41,900.38 139.25,901.52 140.09,902.67 C140.93,903.83 141.77,905.00 142.60,906.19 C143.44,907.37 144.28,908.58 145.12,909.80 C145.95,911.02 146.79,912.26 147.63,913.52 C148.47,914.78 149.30,916.06 150.14,917.36 C150.98,918.66 151.82,919.97 152.66,921.31 C153.49,922.65 154.33,924.01 155.17,925.39 C156.01,926.77 156.84,928.17 157.68,929.59 C158.52,931.02 159.36,932.46 160.19,933.94 C161.03,935.41 161.87,936.90 162.71,938.42 C163.54,939.94 164.38,941.48 165.22,943.05 C166.06,944.62 166.90,946.22 167.73,947.84 C168.57,949.47 169.41,951.12 170.25,952.80 C171.08,954.48 171.92,956.19 172.76,957.93 C173.60,959.67 174.43,961.44 175.27,963.24 C176.11,965.05 176.95,966.88 177.79,968.75 C178.62,970.62 179.46,972.52 180.30,974.46 C181.14,976.40 181.97,978.37 182.81,980.38 C183.65,982.40 184.49,984.45 185.32,986.54 C186.16,988.63 187.00,990.76 187.84,992.93 C188.67,995.11 189.51,997.32 190.35,999.58 C191.19,1001.85 192.03,1004.15 192.86,1006.51 C193.70,1008.86 194.54,1011.26 195.38,1013.72 C196.21,1016.17 197.05,1018.67 197.89,1021.23 C198.73,1023.79 199.56,1026.41 200.40,1029.08 C201.24,1031.75 202.08,1034.48 202.92,1037.27 C203.75,1040.06 204.59,1042.91 205.43,1045.84 C206.27,1048.76 207.10,1051.74 207.94,1054.80 C208.78,1057.86 209.62,1060.98 210.45,1064.19 C211.29,1067.40 212.55,1072.40 212.97,1074.04" fill="none" stroke="#808080" stroke-width="1.1" stroke-linejoin="round" stroke-linecap="round"/>
<path d="M66.60,831.60 C68.83,832.97 75.27,836.77 80.00,839.80 C84.73,842.83 90.83,846.10 95.00,849.80 C99.17,853.50 102.57,859.08 105.00,862.00 C107.43,864.92 107.85,865.57 109.60,867.30 C111.35,869.03 113.55,870.57 115.50,872.40 C117.45,874.23 119.35,876.35 121.30,878.30 C123.25,880.25 125.50,882.03 127.20,884.10 C128.90,886.17 130.05,888.27 131.50,890.70 C132.95,893.13 134.32,896.38 135.90,898.70 C137.48,901.02 139.30,903.02 141.00,904.60 C142.70,906.18 144.60,906.63 146.10,908.20 C147.60,909.77 148.38,911.12 150.00,914.00 C151.62,916.88 153.85,922.97 155.80,925.50 C157.75,928.03 159.98,927.62 161.70,929.20 C163.42,930.78 164.65,932.57 166.10,935.00 C167.55,937.43 168.95,940.87 170.40,943.80 C171.85,946.73 173.33,949.92 174.80,952.60 C176.27,955.28 177.50,957.23 179.20,959.90 C180.90,962.57 183.30,966.42 185.00,968.60 C186.70,970.78 187.82,971.67 189.40,973.00 C190.98,974.33 192.80,977.08 194.50,976.60 C196.20,976.12 198.02,971.80 199.60,970.10 C201.18,968.40 202.65,966.65 204.00,966.40 C205.35,966.15 206.48,967.02 207.70,968.60 C208.92,970.18 210.08,973.58 211.30,975.90 C212.52,978.22 213.53,981.88 215.00,982.50 C216.47,983.12 218.28,980.33 220.10,979.60 C221.92,978.87 224.20,977.73 225.90,978.10 C227.60,978.47 228.83,979.97 230.30,981.80 C231.77,983.63 233.08,986.90 234.70,989.10 C236.32,991.30 238.33,993.43 240.00,995.00 C241.67,996.57 243.15,996.93 244.70,998.50 C246.25,1000.07 247.95,1003.03 249.30,1004.40 C250.65,1005.77 251.62,1006.32 252.80,1006.70 C253.98,1007.08 255.22,1007.57 256.40,1006.70 C257.58,1005.83 258.73,1002.97 259.90,1001.50 C261.07,1000.03 262.05,998.30 263.40,997.90 C264.75,997.50 266.45,998.70 268.00,999.10 C269.55,999.50 270.95,999.82 272.70,1000.30 C274.45,1000.78 276.55,1001.48 278.50,1002.00 C280.45,1002.52 282.45,1003.05 284.40,1003.40 C286.35,1003.75 285.27,1003.93 290.20,1004.10 C295.13,1004.27 310.03,1004.35 314.00,1004.40" fill="none" stroke="#e02c46" stroke-width="1.55" stroke-linejoin="round" stroke-linecap="round"/>
<path d="M66.60,831.60 C68.83,832.97 76.23,837.00 80.00,839.80 C83.77,842.60 86.93,846.25 89.20,848.40 C91.47,850.55 92.13,851.25 93.60,852.70 C95.07,854.15 96.55,855.75 98.00,857.10 C99.45,858.45 100.85,859.70 102.30,860.80 C103.75,861.90 104.98,862.37 106.70,863.70 C108.42,865.03 110.65,866.98 112.60,868.80 C114.55,870.62 116.47,872.90 118.40,874.60 C120.33,876.30 122.25,877.53 124.20,879.00 C126.15,880.47 128.38,881.93 130.10,883.40 C131.82,884.87 133.05,886.10 134.50,887.80 C135.95,889.50 137.35,891.65 138.80,893.60 C140.25,895.55 141.73,897.30 143.20,899.50 C144.67,901.70 146.30,905.13 147.60,906.80 C148.90,908.47 149.63,908.45 151.00,909.50 C152.37,910.55 154.02,911.03 155.80,913.10 C157.58,915.17 159.75,919.70 161.70,921.90 C163.65,924.10 165.55,924.35 167.50,926.30 C169.45,928.25 171.70,931.05 173.40,933.60 C175.10,936.15 176.13,939.65 177.70,941.60 C179.27,943.55 181.08,943.97 182.80,945.30 C184.52,946.63 186.28,948.27 188.00,949.60 C189.72,950.93 191.65,952.32 193.10,953.30 C194.55,954.28 195.48,954.17 196.70,955.50 C197.92,956.83 199.18,959.35 200.40,961.30 C201.62,963.25 202.67,965.00 204.00,967.20 C205.33,969.40 206.93,972.57 208.40,974.50 C209.87,976.43 211.33,979.05 212.80,978.80 C214.27,978.55 215.62,974.82 217.20,973.00 C218.78,971.18 220.85,968.38 222.30,967.90 C223.75,967.42 224.68,968.28 225.90,970.10 C227.12,971.92 228.27,975.63 229.60,978.80 C230.93,981.97 232.45,986.67 233.90,989.10 C235.35,991.53 236.78,992.60 238.30,993.40 C239.82,994.20 241.17,993.63 243.00,993.90 C244.83,994.17 247.67,993.45 249.30,995.00 C250.93,996.55 251.62,1001.15 252.80,1003.20 C253.98,1005.25 255.22,1007.10 256.40,1007.30 C257.58,1007.50 258.93,1005.87 259.90,1004.40 C260.87,1002.93 261.23,999.97 262.20,998.50 C263.17,997.03 264.53,995.60 265.70,995.60 C266.87,995.60 268.03,997.03 269.20,998.50 C270.37,999.97 271.15,1003.32 272.70,1004.40 C274.25,1005.48 276.17,1005.00 278.50,1005.00 C280.83,1005.00 280.78,1004.50 286.70,1004.40 C292.62,1004.30 309.45,1004.40 314.00,1004.40" fill="none" stroke="#56e23a" stroke-width="1.55" stroke-linejoin="round" stroke-linecap="round"/>
<path d="M66.60,831.60 C68.83,832.97 75.27,836.77 80.00,839.80 C84.73,842.83 90.83,846.35 95.00,849.80 C99.17,853.25 102.07,857.33 105.00,860.50 C107.93,863.67 110.37,866.68 112.60,868.80 C114.83,870.92 116.70,871.98 118.40,873.20 C120.10,874.42 121.33,874.77 122.80,876.10 C124.27,877.43 125.75,879.50 127.20,881.20 C128.65,882.90 130.28,884.97 131.50,886.30 C132.72,887.63 133.28,887.73 134.50,889.20 C135.72,890.67 137.58,893.75 138.80,895.10 C140.02,896.45 140.58,896.33 141.80,897.30 C143.02,898.27 144.73,899.48 146.10,900.90 C147.47,902.32 148.38,904.00 150.00,905.80 C151.62,907.60 154.10,909.75 155.80,911.70 C157.50,913.65 158.73,916.05 160.20,917.50 C161.67,918.95 163.13,920.15 164.60,920.40 C166.07,920.65 167.53,918.87 169.00,919.00 C170.47,919.13 172.07,920.12 173.40,921.20 C174.73,922.28 175.78,923.92 177.00,925.50 C178.22,927.08 179.37,929.60 180.70,930.70 C182.03,931.80 183.55,931.13 185.00,932.10 C186.45,933.07 187.93,934.67 189.40,936.50 C190.87,938.33 192.10,941.40 193.80,943.10 C195.50,944.80 197.65,945.37 199.60,946.70 C201.55,948.03 203.55,949.63 205.50,951.10 C207.45,952.57 209.60,954.17 211.30,955.50 C213.00,956.83 214.23,957.65 215.70,959.10 C217.17,960.55 218.63,962.98 220.10,964.20 C221.57,965.42 222.92,965.90 224.50,966.40 C226.08,966.90 228.03,966.58 229.60,967.20 C231.17,967.82 232.57,968.65 233.90,970.10 C235.23,971.55 236.58,974.27 237.60,975.90 C238.62,977.53 239.02,977.68 240.00,979.90 C240.98,982.12 241.95,986.87 243.50,989.20 C245.05,991.53 247.35,992.35 249.30,993.90 C251.25,995.45 253.43,996.37 255.20,998.50 C256.97,1000.63 258.35,1004.17 259.90,1006.70 C261.45,1009.23 262.95,1011.65 264.50,1013.70 C266.05,1015.75 267.83,1018.02 269.20,1019.00 C270.57,1019.98 271.53,1020.28 272.70,1019.60 C273.87,1018.92 275.03,1017.05 276.20,1014.90 C277.37,1012.75 278.53,1008.85 279.70,1006.70 C280.87,1004.55 281.83,1002.93 283.20,1002.00 C284.57,1001.07 286.15,1000.90 287.90,1001.10 C289.65,1001.30 291.57,1002.70 293.70,1003.20 C295.83,1003.70 297.32,1003.90 300.70,1004.10 C304.08,1004.30 311.78,1004.35 314.00,1004.40" fill="none" stroke="#4289e9" stroke-width="1.55" stroke-linejoin="round" stroke-linecap="round"/>
<path d="M66.60,831.60 C68.83,832.97 75.27,836.65 80.00,839.80 C84.73,842.95 90.83,846.97 95.00,850.50 C99.17,854.03 102.07,858.00 105.00,861.00 C107.93,864.00 110.37,866.50 112.60,868.50 C114.83,870.50 116.70,871.48 118.40,873.00 C120.10,874.52 121.10,875.87 122.80,877.60 C124.50,879.33 126.42,881.47 128.60,883.40 C130.78,885.33 133.47,886.77 135.90,889.20 C138.33,891.63 140.77,895.57 143.20,898.00 C145.63,900.43 148.40,901.77 150.50,903.80 C152.60,905.83 154.18,908.15 155.80,910.20 C157.42,912.25 158.73,914.63 160.20,916.10 C161.67,917.57 163.13,918.52 164.60,919.00 C166.07,919.48 167.53,918.27 169.00,919.00 C170.47,919.73 171.95,921.70 173.40,923.40 C174.85,925.10 176.37,927.02 177.70,929.20 C179.03,931.38 180.18,934.07 181.40,936.50 C182.62,938.93 183.78,942.10 185.00,943.80 C186.22,945.50 187.35,945.97 188.70,946.70 C190.05,947.43 191.77,946.98 193.10,948.20 C194.43,949.42 195.48,952.30 196.70,954.00 C197.92,955.70 199.07,957.18 200.40,958.40 C201.73,959.62 203.37,959.35 204.70,961.30 C206.03,963.25 207.05,967.18 208.40,970.10 C209.75,973.02 211.33,976.13 212.80,978.80 C214.27,981.47 215.75,983.42 217.20,986.10 C218.65,988.78 220.20,992.42 221.50,994.90 C222.80,997.38 223.58,998.82 225.00,1001.00 C226.42,1003.18 228.33,1006.08 230.00,1008.00 C231.67,1009.92 233.33,1011.55 235.00,1012.50 C236.67,1013.45 238.58,1014.08 240.00,1013.70 C241.42,1013.32 242.33,1011.17 243.50,1010.20 C244.67,1009.23 245.63,1009.65 247.00,1007.90 C248.37,1006.15 250.33,1002.82 251.70,999.70 C253.07,996.58 254.03,991.63 255.20,989.20 C256.37,986.77 257.33,985.20 258.70,985.10 C260.07,985.00 261.85,988.02 263.40,988.60 C264.95,989.18 266.25,987.72 268.00,988.60 C269.75,989.48 271.95,992.92 273.90,993.90 C275.85,994.88 277.57,994.12 279.70,994.50 C281.83,994.88 284.75,995.53 286.70,996.20 C288.65,996.87 289.65,997.62 291.40,998.50 C293.15,999.38 295.25,1000.82 297.20,1001.50 C299.15,1002.18 300.30,1002.12 303.10,1002.60 C305.90,1003.08 312.18,1004.10 314.00,1004.40" fill="none" stroke="#48f0ee" stroke-width="1.55" stroke-linejoin="round" stroke-linecap="round"/>
<path d="M66.60,831.60 C68.67,832.93 75.60,837.42 79.00,839.60 C82.40,841.78 84.20,842.75 87.00,844.70 C89.80,846.65 93.73,849.60 95.80,851.30 C97.87,853.00 98.07,853.45 99.40,854.90 C100.73,856.35 102.33,858.53 103.80,860.00 C105.27,861.47 106.73,862.35 108.20,863.70 C109.67,865.05 110.90,866.65 112.60,868.10 C114.30,869.55 116.70,871.18 118.40,872.40 C120.10,873.62 121.10,873.93 122.80,875.40 C124.50,876.87 126.90,879.62 128.60,881.20 C130.30,882.78 131.78,884.05 133.00,884.90 C134.22,885.75 134.80,885.33 135.90,886.30 C137.00,887.27 138.27,888.75 139.60,890.70 C140.93,892.65 142.57,896.18 143.90,898.00 C145.23,899.82 146.02,900.63 147.60,901.60 C149.18,902.57 152.03,903.22 153.40,903.80 C154.77,904.38 154.42,904.40 155.80,905.10 C157.18,905.80 159.98,906.90 161.70,908.00 C163.42,909.10 164.40,910.00 166.10,911.70 C167.80,913.40 170.20,916.25 171.90,918.20 C173.60,920.15 174.97,921.45 176.30,923.40 C177.63,925.35 178.68,927.72 179.90,929.90 C181.12,932.08 182.25,934.80 183.60,936.50 C184.95,938.20 186.55,939.13 188.00,940.10 C189.45,941.07 190.97,940.95 192.30,942.30 C193.63,943.65 194.78,945.88 196.00,948.20 C197.22,950.52 198.50,954.02 199.60,956.20 C200.70,958.38 201.38,960.68 202.60,961.30 C203.82,961.92 205.20,960.50 206.90,959.90 C208.60,959.30 211.08,958.92 212.80,957.70 C214.52,956.48 215.62,954.38 217.20,952.60 C218.78,950.82 220.85,947.50 222.30,947.00 C223.75,946.50 224.68,947.70 225.90,949.60 C227.12,951.50 228.27,955.47 229.60,958.40 C230.93,961.33 232.57,964.28 233.90,967.20 C235.23,970.12 236.58,973.50 237.60,975.90 C238.62,978.30 239.22,979.77 240.00,981.60 C240.78,983.43 241.33,985.35 242.30,986.90 C243.27,988.45 244.43,989.83 245.80,990.90 C247.17,991.97 248.93,993.38 250.50,993.30 C252.07,993.22 253.83,990.50 255.20,990.40 C256.57,990.30 257.53,991.15 258.70,992.70 C259.87,994.25 261.03,997.57 262.20,999.70 C263.37,1001.83 264.53,1005.30 265.70,1005.50 C266.87,1005.70 267.83,1002.55 269.20,1000.90 C270.57,999.25 272.35,996.48 273.90,995.60 C275.45,994.72 276.95,994.72 278.50,995.60 C280.05,996.48 281.83,999.53 283.20,1000.90 C284.57,1002.27 285.53,1003.18 286.70,1003.80 C287.87,1004.42 288.63,1004.55 290.20,1004.60 C291.77,1004.65 292.13,1004.13 296.10,1004.10 C300.07,1004.07 311.02,1004.35 314.00,1004.40" fill="none" stroke="#c832d8" stroke-width="1.55" stroke-linejoin="round" stroke-linecap="round"/>
</g>
<rect x="257.90" y="823.40" width="65.50" height="90.60" fill="#fff" stroke="#333" stroke-width="1.1"/>
<line x1="266.00" y1="834.50" x2="278.60" y2="834.50" stroke="#000" stroke-width="1.6" />
<text x="286.40" y="837.50" font-family="Liberation Sans, sans-serif" font-size="9.2" text-anchor="start" fill="#111" >None</text>
<line x1="266.00" y1="845.82" x2="278.60" y2="845.82" stroke="#9a9a9a" stroke-width="1.6" />
<text x="286.40" y="848.82" font-family="Liberation Sans, sans-serif" font-size="9.2" text-anchor="start" fill="#111" >All</text>
<line x1="266.00" y1="857.14" x2="278.60" y2="857.14" stroke="#e02c46" stroke-width="1.6" />
<text x="286.40" y="860.14" font-family="Liberation Sans, sans-serif" font-size="9.2" text-anchor="start" fill="#111" >ADC</text>
<line x1="266.00" y1="868.46" x2="278.60" y2="868.46" stroke="#56e23a" stroke-width="1.6" />
<text x="286.40" y="871.46" font-family="Liberation Sans, sans-serif" font-size="9.2" text-anchor="start" fill="#111" >b1000</text>
<line x1="266.00" y1="879.78" x2="278.60" y2="879.78" stroke="#4289e9" stroke-width="1.6" />
<text x="286.40" y="882.78" font-family="Liberation Sans, sans-serif" font-size="9.2" text-anchor="start" fill="#111" >b2000</text>
<line x1="266.00" y1="891.10" x2="278.60" y2="891.10" stroke="#48f0ee" stroke-width="1.6" />
<text x="286.40" y="894.10" font-family="Liberation Sans, sans-serif" font-size="9.2" text-anchor="start" fill="#111" >b3000</text>
<line x1="266.00" y1="902.42" x2="278.60" y2="902.42" stroke="#c832d8" stroke-width="1.6" />
<text x="286.40" y="905.42" font-family="Liberation Sans, sans-serif" font-size="9.2" text-anchor="start" fill="#111" >Multi-b</text>
<rect x="411.80" y="823.40" width="266.10" height="223.40" fill="none" stroke="#333" stroke-width="1.1"/>
<line x1="404.30" y1="1038.80" x2="411.80" y2="1038.80" stroke="#333" stroke-width="1" />
<text x="394.70" y="1038.80" font-family="Liberation Sans, sans-serif" font-size="11.6" text-anchor="middle" fill="#111" transform="rotate(-90 394.70 1038.80)" >-0.1</text>
<line x1="404.30" y1="1004.40" x2="411.80" y2="1004.40" stroke="#333" stroke-width="1" />
<text x="394.70" y="1004.40" font-family="Liberation Sans, sans-serif" font-size="11.6" text-anchor="middle" fill="#111" transform="rotate(-90 394.70 1004.40)" >0.0</text>
<line x1="404.30" y1="970.00" x2="411.80" y2="970.00" stroke="#333" stroke-width="1" />
<text x="394.70" y="970.00" font-family="Liberation Sans, sans-serif" font-size="11.6" text-anchor="middle" fill="#111" transform="rotate(-90 394.70 970.00)" >0.1</text>
<line x1="404.30" y1="935.60" x2="411.80" y2="935.60" stroke="#333" stroke-width="1" />
<text x="394.70" y="935.60" font-family="Liberation Sans, sans-serif" font-size="11.6" text-anchor="middle" fill="#111" transform="rotate(-90 394.70 935.60)" >0.2</text>
<line x1="404.30" y1="901.20" x2="411.80" y2="901.20" stroke="#333" stroke-width="1" />
<text x="394.70" y="901.20" font-family="Liberation Sans, sans-serif" font-size="11.6" text-anchor="middle" fill="#111" transform="rotate(-90 394.70 901.20)" >0.3</text>
<line x1="404.30" y1="866.80" x2="411.80" y2="866.80" stroke="#333" stroke-width="1" />
<text x="394.70" y="866.80" font-family="Liberation Sans, sans-serif" font-size="11.6" text-anchor="middle" fill="#111" transform="rotate(-90 394.70 866.80)" >0.4</text>
<line x1="404.30" y1="832.40" x2="411.80" y2="832.40" stroke="#333" stroke-width="1" />
<text x="394.70" y="832.40" font-family="Liberation Sans, sans-serif" font-size="11.6" text-anchor="middle" fill="#111" transform="rotate(-90 394.70 832.40)" >0.5</text>
<line x1="419.20" y1="1046.80" x2="419.20" y2="1054.30" stroke="#333" stroke-width="1" />
<text x="419.20" y="1073.20" font-family="Liberation Sans, sans-serif" font-size="11.6" text-anchor="middle" fill="#111" >0.0</text>
<line x1="469.46" y1="1046.80" x2="469.46" y2="1054.30" stroke="#333" stroke-width="1" />
<text x="469.46" y="1073.20" font-family="Liberation Sans, sans-serif" font-size="11.6" text-anchor="middle" fill="#111" >0.2</text>
<line x1="519.72" y1="1046.80" x2="519.72" y2="1054.30" stroke="#333" stroke-width="1" />
<text x="519.72" y="1073.20" font-family="Liberation Sans, sans-serif" font-size="11.6" text-anchor="middle" fill="#111" >0.4</text>
<line x1="569.98" y1="1046.80" x2="569.98" y2="1054.30" stroke="#333" stroke-width="1" />
<text x="569.98" y="1073.20" font-family="Liberation Sans, sans-serif" font-size="11.6" text-anchor="middle" fill="#111" >0.6</text>
<line x1="620.24" y1="1046.80" x2="620.24" y2="1054.30" stroke="#333" stroke-width="1" />
<text x="620.24" y="1073.20" font-family="Liberation Sans, sans-serif" font-size="11.6" text-anchor="middle" fill="#111" >0.8</text>
<line x1="670.50" y1="1046.80" x2="670.50" y2="1054.30" stroke="#333" stroke-width="1" />
<text x="670.50" y="1073.20" font-family="Liberation Sans, sans-serif" font-size="11.6" text-anchor="middle" fill="#111" >1.0</text>
<text x="545.35" y="1101.00" font-family="Liberation Sans, sans-serif" font-size="11.8" text-anchor="middle" fill="#111" >Threshold probability</text>
<text x="366.40" y="935.10" font-family="Liberation Sans, sans-serif" font-size="11.8" text-anchor="middle" fill="#111" transform="rotate(-90 366.40 935.10)" >Net benefit</text>
<text x="512.30" y="837.70" font-family="Liberation Sans, sans-serif" font-size="11.8" text-anchor="start" fill="#111" word-spacing="-1.6">DCA Curve</text>
<text x="364.30" y="831.60" font-family="Liberation Sans, sans-serif" font-size="16.8" text-anchor="start" fill="#000" font-weight="bold" >F</text>
<clipPath id="clipF"><rect x="411.80" y="823.40" width="266.10" height="223.40"/></clipPath>
<g clip-path="url(#clipF)">
<line x1="421.71" y1="1004.40" x2="667.99" y2="1004.40" stroke="#000" stroke-width="1.9" />
<path d="M421.71,831.36 C422.13,831.65 423.39,832.51 424.23,833.10 C425.06,833.69 425.90,834.28 426.74,834.88 C427.58,835.48 428.41,836.09 429.25,836.70 C430.09,837.31 430.93,837.93 431.76,838.56 C432.60,839.18 433.44,839.81 434.28,840.45 C435.12,841.09 435.95,841.73 436.79,842.39 C437.63,843.04 438.47,843.70 439.30,844.37 C440.14,845.03 440.98,845.71 441.82,846.39 C442.65,847.07 443.49,847.76 444.33,848.45 C445.17,849.15 446.01,849.85 446.84,850.57 C447.68,851.28 448.52,852.00 449.36,852.73 C450.19,853.46 451.03,854.19 451.87,854.94 C452.71,855.68 453.54,856.44 454.38,857.20 C455.22,857.96 456.06,858.73 456.89,859.52 C457.73,860.30 458.57,861.09 459.41,861.89 C460.25,862.69 461.08,863.49 461.92,864.31 C462.76,865.13 463.60,865.96 464.43,866.80 C465.27,867.64 466.11,868.49 466.95,869.35 C467.78,870.21 468.62,871.08 469.46,871.96 C470.30,872.84 471.14,873.73 471.97,874.64 C472.81,875.54 473.65,876.46 474.49,877.38 C475.32,878.31 476.16,879.25 477.00,880.20 C477.84,881.15 478.67,882.12 479.51,883.09 C480.35,884.07 481.19,885.06 482.02,886.06 C482.86,887.07 483.70,888.08 484.54,889.11 C485.38,890.14 486.21,891.19 487.05,892.25 C487.89,893.31 488.73,894.38 489.56,895.47 C490.40,896.56 491.24,897.66 492.08,898.78 C492.91,899.90 493.75,901.03 494.59,902.18 C495.43,903.33 496.27,904.50 497.10,905.69 C497.94,906.87 498.78,908.07 499.62,909.29 C500.45,910.51 501.29,911.75 502.13,913.01 C502.97,914.27 503.80,915.54 504.64,916.84 C505.48,918.13 506.32,919.45 507.16,920.78 C507.99,922.12 508.83,923.47 509.67,924.85 C510.51,926.23 511.34,927.63 512.18,929.05 C513.02,930.47 513.86,931.91 514.69,933.38 C515.53,934.85 516.37,936.34 517.21,937.86 C518.04,939.37 518.88,940.91 519.72,942.48 C520.56,944.05 521.40,945.64 522.23,947.26 C523.07,948.88 523.91,950.53 524.75,952.21 C525.58,953.88 526.42,955.59 527.26,957.33 C528.10,959.06 528.93,960.83 529.77,962.63 C530.61,964.43 531.45,966.26 532.29,968.12 C533.12,969.99 533.96,971.89 534.80,973.82 C535.64,975.76 536.47,977.73 537.31,979.74 C538.15,981.74 538.99,983.79 539.82,985.88 C540.66,987.96 541.50,990.09 542.34,992.26 C543.17,994.43 544.01,996.64 544.85,998.90 C545.69,1001.15 546.53,1003.45 547.36,1005.80 C548.20,1008.15 549.04,1010.55 549.88,1013.00 C550.71,1015.45 551.55,1017.95 552.39,1020.50 C553.23,1023.06 554.06,1025.66 554.90,1028.33 C555.74,1031.00 556.58,1033.72 557.42,1036.51 C558.25,1039.29 559.09,1042.14 559.93,1045.05 C560.77,1047.97 561.60,1050.95 562.44,1054.00 C563.28,1057.05 564.12,1060.17 564.95,1063.37 C565.79,1066.57 567.05,1071.56 567.47,1073.20" fill="none" stroke="#808080" stroke-width="1.1" stroke-linejoin="round" stroke-linecap="round"/>
<path d="M421.30,831.60 C424.27,833.67 434.80,840.85 439.10,844.00 C443.40,847.15 444.30,848.43 447.10,850.50 C449.90,852.57 453.22,854.45 455.90,856.40 C458.58,858.35 461.02,860.13 463.20,862.20 C465.38,864.27 467.05,867.10 469.00,868.80 C470.95,870.50 472.95,870.82 474.90,872.40 C476.85,873.98 479.00,876.10 480.70,878.30 C482.40,880.50 483.63,882.80 485.10,885.60 C486.57,888.40 487.92,892.92 489.50,895.10 C491.08,897.28 493.03,896.75 494.60,898.70 C496.17,900.65 497.57,904.23 498.90,906.80 C500.23,909.37 501.58,912.32 502.60,914.10 C503.62,915.88 503.82,916.15 505.00,917.50 C506.18,918.85 508.15,920.25 509.70,922.20 C511.25,924.15 512.75,927.25 514.30,929.20 C515.85,931.15 517.43,933.02 519.00,933.90 C520.57,934.78 522.13,933.92 523.70,934.50 C525.27,935.08 527.03,936.15 528.40,937.40 C529.77,938.65 530.73,939.87 531.90,942.00 C533.07,944.13 534.23,947.08 535.40,950.20 C536.57,953.32 537.55,957.38 538.90,960.70 C540.25,964.02 542.05,967.77 543.50,970.10 C544.95,972.43 546.23,974.52 547.60,974.70 C548.97,974.88 550.43,972.75 551.70,971.20 C552.97,969.65 554.03,966.75 555.20,965.40 C556.37,964.05 557.53,962.72 558.70,963.10 C559.87,963.48 561.03,966.35 562.20,967.70 C563.37,969.05 564.53,971.38 565.70,971.20 C566.87,971.02 568.03,968.15 569.20,966.60 C570.37,965.05 571.53,961.72 572.70,961.90 C573.87,962.08 575.22,966.15 576.20,967.70 C577.18,969.25 577.97,970.95 578.60,971.20 C579.23,971.45 579.33,971.07 580.00,969.20 C580.67,967.33 581.40,962.97 582.60,960.00 C583.80,957.03 585.67,951.85 587.20,951.40 C588.73,950.95 590.37,954.33 591.80,957.30 C593.23,960.27 594.58,966.02 595.80,969.20 C597.02,972.38 597.78,974.00 599.10,976.40 C600.42,978.80 602.40,980.65 603.70,983.60 C605.00,986.55 605.82,990.70 606.90,994.10 C607.98,997.50 608.98,1004.00 610.20,1004.00 C611.42,1004.00 612.67,997.07 614.20,994.10 C615.73,991.13 617.65,987.28 619.40,986.20 C621.15,985.12 622.95,986.28 624.70,987.60 C626.45,988.92 628.37,992.35 629.90,994.10 C631.43,995.85 632.58,997.33 633.90,998.10 C635.22,998.87 636.27,998.70 637.80,998.70 C639.33,998.70 641.35,998.10 643.10,998.10 C644.85,998.10 646.33,997.72 648.30,998.70 C650.27,999.68 651.50,1003.12 654.90,1004.00 C658.30,1004.88 666.40,1004.00 668.70,1004.00" fill="none" stroke="#e02c46" stroke-width="1.55" stroke-linejoin="round" stroke-linecap="round"/>
<path d="M421.30,831.60 C424.27,833.67 435.53,840.97 439.10,844.00 C442.67,847.03 441.48,847.85 442.70,849.80 C443.92,851.75 445.05,854.00 446.40,855.70 C447.75,857.40 449.47,858.92 450.80,860.00 C452.13,861.08 453.07,861.10 454.40,862.20 C455.73,863.30 457.33,865.02 458.80,866.60 C460.27,868.18 461.73,870.23 463.20,871.70 C464.67,873.17 466.15,873.82 467.60,875.40 C469.05,876.98 470.45,878.65 471.90,881.20 C473.35,883.75 475.08,888.15 476.30,890.70 C477.52,893.25 478.22,894.55 479.20,896.50 C480.18,898.45 481.22,900.45 482.20,902.40 C483.18,904.35 484.13,906.25 485.10,908.20 C486.07,910.15 487.03,912.40 488.00,914.10 C488.97,915.80 489.68,916.70 490.90,918.40 C492.12,920.10 493.78,922.53 495.30,924.30 C496.82,926.07 498.38,927.80 500.00,929.00 C501.62,930.20 503.38,931.18 505.00,931.50 C506.62,931.82 508.15,930.70 509.70,930.90 C511.25,931.10 512.95,931.62 514.30,932.70 C515.65,933.78 516.82,935.45 517.80,937.40 C518.78,939.35 519.22,941.87 520.20,944.40 C521.18,946.93 522.53,950.27 523.70,952.60 C524.87,954.93 525.83,956.65 527.20,958.40 C528.57,960.15 530.35,962.62 531.90,963.10 C533.45,963.58 535.15,961.88 536.50,961.30 C537.85,960.72 538.63,961.25 540.00,959.60 C541.37,957.95 543.13,953.93 544.70,951.40 C546.27,948.87 548.03,945.97 549.40,944.40 C550.77,942.83 551.73,941.90 552.90,942.00 C554.07,942.10 555.23,943.83 556.40,945.00 C557.57,946.17 558.53,948.13 559.90,949.00 C561.27,949.87 563.05,949.60 564.60,950.20 C566.15,950.80 567.65,952.60 569.20,952.60 C570.75,952.60 572.53,951.47 573.90,950.20 C575.27,948.93 576.38,945.78 577.40,945.00 C578.42,944.22 578.92,943.45 580.00,945.50 C581.08,947.55 582.25,953.80 583.90,957.30 C585.55,960.80 588.03,965.73 589.90,966.50 C591.77,967.27 593.68,962.12 595.10,961.90 C596.52,961.68 597.20,963.33 598.40,965.20 C599.60,967.07 600.98,970.68 602.30,973.10 C603.62,975.52 604.98,977.28 606.30,979.70 C607.62,982.12 609.00,984.98 610.20,987.60 C611.40,990.22 612.18,993.55 613.50,995.40 C614.82,997.25 616.23,998.15 618.10,998.70 C619.97,999.25 622.52,998.70 624.70,998.70 C626.88,998.70 629.02,997.82 631.20,998.70 C633.38,999.58 631.55,1003.12 637.80,1004.00 C644.05,1004.88 663.55,1004.00 668.70,1004.00" fill="none" stroke="#56e23a" stroke-width="1.55" stroke-linejoin="round" stroke-linecap="round"/>
<path d="M421.30,831.60 C424.27,833.67 435.28,840.85 439.10,844.00 C442.92,847.15 442.38,848.07 444.20,850.50 C446.02,852.93 448.30,856.77 450.00,858.60 C451.70,860.43 452.93,860.42 454.40,861.50 C455.87,862.58 457.10,863.15 458.80,865.10 C460.50,867.05 462.65,870.88 464.60,873.20 C466.55,875.52 468.55,877.18 470.50,879.00 C472.45,880.82 474.35,882.27 476.30,884.10 C478.25,885.93 480.25,887.93 482.20,890.00 C484.15,892.07 486.30,894.20 488.00,896.50 C489.70,898.80 490.93,901.12 492.40,903.80 C493.87,906.48 495.47,909.92 496.80,912.60 C498.13,915.28 499.03,918.50 500.40,919.90 C501.77,921.30 503.45,919.65 505.00,921.00 C506.55,922.35 508.15,925.27 509.70,928.00 C511.25,930.73 512.95,935.73 514.30,937.40 C515.65,939.07 516.43,937.62 517.80,938.00 C519.17,938.38 520.93,938.45 522.50,939.70 C524.07,940.95 525.63,943.75 527.20,945.50 C528.77,947.25 530.53,950.00 531.90,950.20 C533.27,950.40 534.05,948.15 535.40,946.70 C536.75,945.25 538.45,941.88 540.00,941.50 C541.55,941.12 543.13,943.15 544.70,944.40 C546.27,945.65 547.93,947.25 549.40,949.00 C550.87,950.75 552.13,955.28 553.50,954.90 C554.87,954.52 556.15,949.62 557.60,946.70 C559.05,943.78 561.03,939.43 562.20,937.40 C563.37,935.37 563.62,934.32 564.60,934.50 C565.58,934.68 566.93,936.67 568.10,938.50 C569.27,940.33 570.43,943.55 571.60,945.50 C572.77,947.45 573.75,949.32 575.10,950.20 C576.45,951.08 578.45,951.58 579.70,950.80 C580.95,950.02 581.35,946.82 582.60,945.50 C583.85,944.18 585.45,942.35 587.20,942.90 C588.95,943.45 591.35,947.48 593.10,948.80 C594.85,950.12 596.27,949.38 597.70,950.80 C599.13,952.22 600.27,954.68 601.70,957.30 C603.13,959.92 604.77,963.43 606.30,966.50 C607.83,969.57 609.48,972.63 610.90,975.70 C612.32,978.77 613.60,982.27 614.80,984.90 C616.00,987.53 616.90,990.18 618.10,991.50 C619.30,992.82 620.68,992.25 622.00,992.80 C623.32,993.35 624.68,993.92 626.00,994.80 C627.32,995.68 628.37,997.33 629.90,998.10 C631.43,998.87 633.45,998.85 635.20,999.40 C636.95,999.95 638.65,1000.63 640.40,1001.40 C642.15,1002.17 640.98,1003.57 645.70,1004.00 C650.42,1004.43 664.87,1004.00 668.70,1004.00" fill="none" stroke="#4289e9" stroke-width="1.55" stroke-linejoin="round" stroke-linecap="round"/>
<path d="M421.30,831.60 C424.27,833.67 434.80,840.72 439.10,844.00 C443.40,847.28 444.30,848.87 447.10,851.30 C449.90,853.73 452.98,856.17 455.90,858.60 C458.82,861.03 461.93,863.60 464.60,865.90 C467.27,868.20 469.47,870.22 471.90,872.40 C474.33,874.58 477.13,876.92 479.20,879.00 C481.27,881.08 482.83,882.70 484.30,884.90 C485.77,887.10 486.65,890.38 488.00,892.20 C489.35,894.02 490.93,894.95 492.40,895.80 C493.87,896.65 495.58,895.97 496.80,897.30 C498.02,898.63 498.73,901.50 499.70,903.80 C500.67,906.10 501.72,909.40 502.60,911.10 C503.48,912.80 503.82,912.53 505.00,914.00 C506.18,915.47 508.15,917.75 509.70,919.90 C511.25,922.05 512.95,924.57 514.30,926.90 C515.65,929.23 516.62,931.97 517.80,933.90 C518.98,935.83 520.03,937.15 521.40,938.50 C522.77,939.85 524.45,940.83 526.00,942.00 C527.55,943.17 529.13,944.33 530.70,945.50 C532.27,946.67 533.85,947.82 535.40,949.00 C536.95,950.18 538.45,951.03 540.00,952.60 C541.55,954.17 543.13,956.07 544.70,958.40 C546.27,960.73 547.83,964.47 549.40,966.60 C550.97,968.73 552.73,971.40 554.10,971.20 C555.47,971.00 556.43,967.92 557.60,965.40 C558.77,962.88 559.75,958.43 561.10,956.10 C562.45,953.77 564.25,951.80 565.70,951.40 C567.15,951.00 568.43,954.48 569.80,953.70 C571.17,952.92 572.53,948.35 573.90,946.70 C575.27,945.05 576.98,944.43 578.00,943.80 C579.02,943.17 578.78,942.62 580.00,942.90 C581.22,943.18 583.55,944.40 585.30,945.50 C587.05,946.60 588.75,947.97 590.50,949.50 C592.25,951.03 594.05,952.95 595.80,954.70 C597.55,956.45 599.37,957.82 601.00,960.00 C602.63,962.18 604.28,964.97 605.60,967.80 C606.92,970.63 607.80,973.93 608.90,977.00 C610.00,980.07 611.00,983.57 612.20,986.20 C613.40,988.83 614.78,990.82 616.10,992.80 C617.42,994.78 618.88,995.90 620.10,998.10 C621.32,1000.30 622.08,1002.72 623.40,1006.00 C624.72,1009.28 626.58,1017.15 628.00,1017.80 C629.42,1018.45 630.82,1012.97 631.90,1009.90 C632.98,1006.83 633.62,1001.58 634.50,999.40 C635.38,997.22 636.22,996.58 637.20,996.80 C638.18,997.02 639.20,999.50 640.40,1000.70 C641.60,1001.90 639.68,1003.45 644.40,1004.00 C649.12,1004.55 664.65,1004.00 668.70,1004.00" fill="none" stroke="#48f0ee" stroke-width="1.55" stroke-linejoin="round" stroke-linecap="round"/>
<path d="M421.30,831.60 C424.27,833.67 435.53,840.97 439.10,844.00 C442.67,847.03 441.48,847.85 442.70,849.80 C443.92,851.75 445.18,854.12 446.40,855.70 C447.62,857.28 448.67,858.22 450.00,859.30 C451.33,860.38 453.05,860.98 454.40,862.20 C455.75,863.42 456.88,864.77 458.10,866.60 C459.32,868.43 460.48,871.25 461.70,873.20 C462.92,875.15 464.07,876.85 465.40,878.30 C466.73,879.75 468.37,880.57 469.70,881.90 C471.03,883.23 472.05,884.47 473.40,886.30 C474.75,888.13 476.10,891.32 477.80,892.90 C479.50,894.48 481.90,894.70 483.60,895.80 C485.30,896.90 486.53,898.28 488.00,899.50 C489.47,900.72 490.93,901.65 492.40,903.10 C493.87,904.55 495.35,906.62 496.80,908.20 C498.25,909.78 499.73,911.43 501.10,912.60 C502.47,913.77 503.57,914.18 505.00,915.20 C506.43,916.22 508.15,917.33 509.70,918.70 C511.25,920.07 512.95,921.45 514.30,923.40 C515.65,925.35 516.62,928.27 517.80,930.40 C518.98,932.53 520.22,934.55 521.40,936.20 C522.58,937.85 523.55,939.13 524.90,940.30 C526.25,941.47 528.15,942.13 529.50,943.20 C530.85,944.27 531.83,945.63 533.00,946.70 C534.17,947.77 535.33,949.60 536.50,949.60 C537.67,949.60 538.83,948.55 540.00,946.70 C541.17,944.85 542.33,941.80 543.50,938.50 C544.67,935.20 545.63,930.10 547.00,926.90 C548.37,923.70 550.13,920.28 551.70,919.30 C553.27,918.32 555.03,919.93 556.40,921.00 C557.77,922.07 558.73,923.75 559.90,925.70 C561.07,927.65 562.23,931.43 563.40,932.70 C564.57,933.97 565.73,932.72 566.90,933.30 C568.07,933.88 569.23,934.17 570.40,936.20 C571.57,938.23 572.83,942.38 573.90,945.50 C574.97,948.62 575.73,952.75 576.80,954.90 C577.87,957.05 579.12,957.55 580.30,958.40 C581.48,959.25 582.63,958.87 583.90,960.00 C585.17,961.13 586.58,963.45 587.90,965.20 C589.22,966.95 590.60,968.30 591.80,970.50 C593.00,972.70 594.00,975.88 595.10,978.40 C596.20,980.92 597.20,984.18 598.40,985.60 C599.60,987.02 601.10,987.88 602.30,986.90 C603.50,985.92 604.62,982.43 605.60,979.70 C606.58,976.97 607.32,973.57 608.20,970.50 C609.08,967.43 610.13,963.50 610.90,961.30 C611.67,959.10 612.15,957.30 612.80,957.30 C613.45,957.30 614.13,959.32 614.80,961.30 C615.47,963.28 616.03,966.35 616.80,969.20 C617.57,972.05 618.30,975.67 619.40,978.40 C620.50,981.13 622.08,983.42 623.40,985.60 C624.72,987.78 626.00,989.63 627.30,991.50 C628.60,993.37 629.88,995.60 631.20,996.80 C632.52,998.00 633.88,998.27 635.20,998.70 C636.52,999.13 637.78,998.85 639.10,999.40 C640.42,999.95 642.00,1001.23 643.10,1002.00 C644.20,1002.77 641.43,1003.67 645.70,1004.00 C649.97,1004.33 664.87,1004.00 668.70,1004.00" fill="none" stroke="#c832d8" stroke-width="1.55" stroke-linejoin="round" stroke-linecap="round"/>
</g>
<rect x="612.40" y="823.40" width="65.50" height="90.60" fill="#fff" stroke="#333" stroke-width="1.1"/>
<line x1="620.50" y1="834.50" x2="633.10" y2="834.50" stroke="#000" stroke-width="1.6" />
<text x="640.90" y="837.50" font-family="Liberation Sans, sans-serif" font-size="9.2" text-anchor="start" fill="#111" >None</text>
<line x1="620.50" y1="845.82" x2="633.10" y2="845.82" stroke="#9a9a9a" stroke-width="1.6" />
<text x="640.90" y="848.82" font-family="Liberation Sans, sans-serif" font-size="9.2" text-anchor="start" fill="#111" >All</text>
<line x1="620.50" y1="857.14" x2="633.10" y2="857.14" stroke="#e02c46" stroke-width="1.6" />
<text x="640.90" y="860.14" font-family="Liberation Sans, sans-serif" font-size="9.2" text-anchor="start" fill="#111" >ADC</text>
<line x1="620.50" y1="868.46" x2="633.10" y2="868.46" stroke="#56e23a" stroke-width="1.6" />
<text x="640.90" y="871.46" font-family="Liberation Sans, sans-serif" font-size="9.2" text-anchor="start" fill="#111" >b1000</text>
<line x1="620.50" y1="879.78" x2="633.10" y2="879.78" stroke="#4289e9" stroke-width="1.6" />
<text x="640.90" y="882.78" font-family="Liberation Sans, sans-serif" font-size="9.2" text-anchor="start" fill="#111" >b2000</text>
<line x1="620.50" y1="891.10" x2="633.10" y2="891.10" stroke="#48f0ee" stroke-width="1.6" />
<text x="640.90" y="894.10" font-family="Liberation Sans, sans-serif" font-size="9.2" text-anchor="start" fill="#111" >b3000</text>
<line x1="620.50" y1="902.42" x2="633.10" y2="902.42" stroke="#c832d8" stroke-width="1.6" />
<text x="640.90" y="905.42" font-family="Liberation Sans, sans-serif" font-size="9.2" text-anchor="start" fill="#111" >Multi-b</text>
</svg>
</body></html>
